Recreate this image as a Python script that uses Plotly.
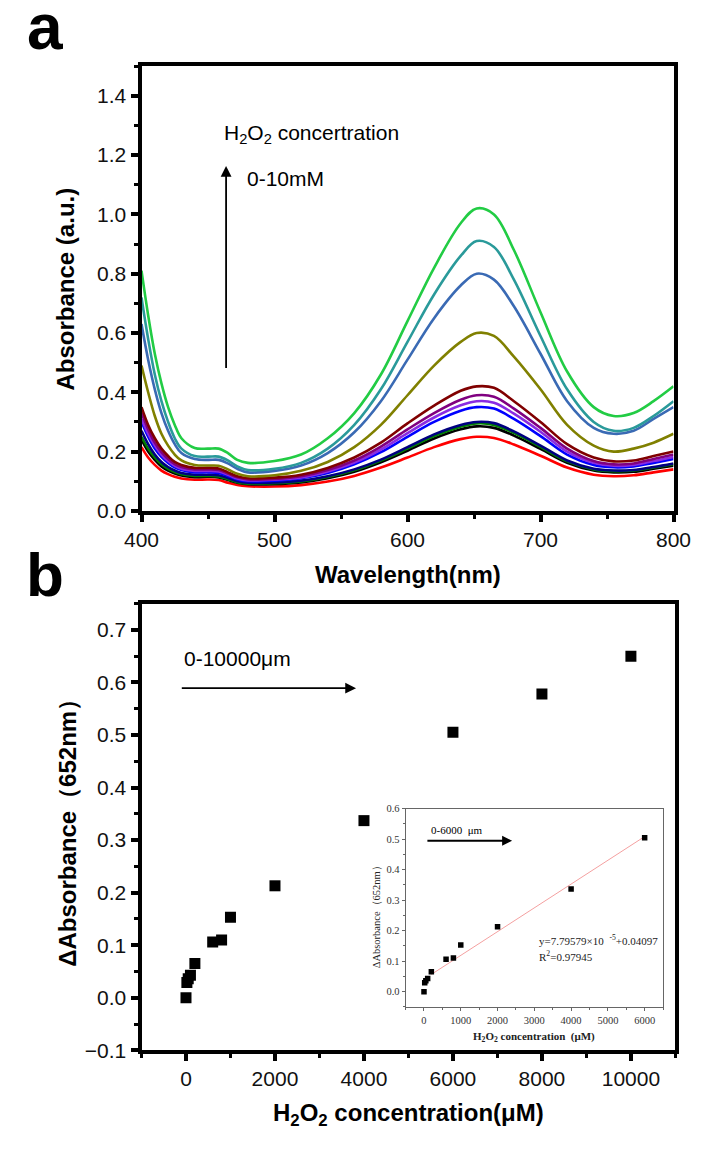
import plotly.graph_objects as go

# ---------------- Panel a data ----------------
wavelength = [400, 405, 410, 415, 420, 425, 430, 440, 450, 458, 465, 472, 480, 500, 520, 540,
              560, 580, 600, 620, 640, 652, 665, 680, 700, 720, 740, 755, 770, 785, 800]

abs_red = [.215, .18, .155, .136, .124, .115, .109, .105, .106, .104, .095, .087, .083, .082, .087, .099,
           .118, .146, .18, .215, .242, .25, .246, .224, .186, .146, .122, .117, .12, .13, .14]
abs_black = [.24, .2, .172, .15, .136, .126, .119, .114, .115, .113, .104, .095, .09, .09, .096, .11,
             .132, .164, .203, .244, .275, .285, .28, .254, .209, .162, .136, .13, .132, .142, .152]
abs_green = [.25, .21, .18, .157, .142, .131, .124, .118, .118, .116, .107, .097, .092, .093, .099, .114,
             .137, .17, .21, .252, .284, .295, .29, .263, .216, .167, .14, .134, .136, .146, .157]
abs_navy = [.27, .225, .19, .165, .148, .136, .128, .122, .122, .12, .111, .1, .095, .096, .102, .117,
            .14, .173, .215, .258, .29, .30, .296, .268, .22, .17, .142, .136, .138, .148, .16]
abs_blue = [.30, .25, .21, .182, .162, .147, .138, .13, .13, .128, .118, .106, .1, .102, .11, .128,
            .157, .198, .25, .3, .338, .35, .345, .31, .252, .19, .155, .147, .15, .162, .175]
abs_violet = [.31, .26, .22, .19, .168, .152, .142, .135, .135, .133, .122, .109, .103, .105, .113, .133,
              .163, .207, .262, .315, .356, .37, .365, .328, .267, .2, .162, .152, .155, .168, .182]
abs_purple = [.33, .275, .23, .198, .175, .158, .148, .14, .14, .138, .126, .113, .106, .108, .117, .138,
              .17, .217, .275, .33, .375, .39, .385, .345, .28, .21, .168, .157, .16, .175, .19]
abs_wine = [.35, .29, .245, .21, .185, .165, .155, .145, .145, .143, .13, .117, .11, .112, .122, .145,
            .18, .23, .295, .355, .405, .42, .415, .37, .30, .225, .18, .167, .17, .185, .20]
abs_olive = [.49, .40, .32, .26, .22, .19, .17, .155, .153, .152, .14, .125, .117, .12, .135, .165,
             .215, .29, .39, .49, .57, .60, .59, .52, .41, .29, .22, .20, .21, .23, .26]
abs_royal = [.63, .51, .41, .33, .27, .225, .195, .175, .172, .172, .16, .142, .13, .135, .153, .195,
             .265, .37, .51, .65, .76, .80, .78, .69, .53, .37, .28, .26, .27, .31, .35]
abs_cyan = [.72, .58, .46, .37, .30, .245, .21, .185, .183, .183, .17, .15, .138, .142, .162, .21,
            .29, .41, .57, .73, .86, .91, .89, .78, .59, .41, .30, .27, .28, .32, .37]
abs_lime = [.81, .66, .53, .43, .35, .29, .245, .212, .21, .21, .195, .172, .162, .168, .19, .245,
            .33, .46, .64, .82, .97, 1.02, 1.00, .88, .67, .47, .35, .32, .33, .37, .42]

curves = [abs_red, abs_black, abs_green, abs_navy, abs_blue, abs_violet, abs_purple,
          abs_wine, abs_olive, abs_royal, abs_cyan, abs_lime]
curve_colors = ["#FF0000", "#000000", "#008000", "#000080", "#0000FF", "#8A2BE2", "#800080",
                "#800000", "#808000", "#3A6AB4", "#2A9A9A", "#22CC44"]

# ---------------- Panel b data ----------------
conc = [0, 20, 50, 100, 200, 600, 800, 1000, 2000, 4000, 6000, 8000, 10000]
d_abs = [0.0, 0.029, 0.036, 0.043, 0.065, 0.106, 0.110, 0.153, 0.213, 0.337, 0.505, 0.578, 0.650]
d_err = [0.002, 0.004, 0.005, 0.005, 0.008, 0.004, 0.008, 0.006, 0.003, 0.003, 0.003, 0.004, 0.003]

inset_conc = [0, 20, 50, 100, 200, 600, 800, 1000, 2000, 4000, 6000]
inset_abs = [0.0, 0.029, 0.036, 0.043, 0.065, 0.106, 0.110, 0.153, 0.213, 0.337, 0.505]
fit_x = [200, 6000]
fit_slope = 7.79579e-5
fit_icpt = 0.04097
fit_y = [fit_slope * v + fit_icpt for v in fit_x]

W, H = 720, 1153
def px(x):
    return x / W
def py(y):
    return 1 - y / H

SANS = "Liberation Sans, Arial, sans-serif"
SERIF = "Liberation Serif, Times New Roman, serif"

fig = go.Figure()

for vals, col in zip(curves, curve_colors):
    fig.add_trace(go.Scatter(x=wavelength, y=vals, mode="lines", line=dict(color=col, width=2.6, shape="spline"),
                             xaxis="x", yaxis="y", showlegend=False))

fig.add_trace(go.Scatter(x=conc, y=d_abs, mode="markers",
                         marker=dict(symbol="square", size=11, color="black"),
                         error_y=dict(type="data", array=d_err, color="#888888", thickness=1.5, width=4),
                         xaxis="x2", yaxis="y2", showlegend=False))

fig.add_trace(go.Scatter(x=fit_x, y=fit_y, mode="lines", line=dict(color="#F4A0A0", width=1),
                         xaxis="x3", yaxis="y3", showlegend=False))
fig.add_trace(go.Scatter(x=inset_conc, y=inset_abs, mode="markers",
                         marker=dict(symbol="square", size=5.5, color="black"),
                         xaxis="x3", yaxis="y3", showlegend=False))

main_ax = dict(showline=True, linewidth=4, linecolor="black", mirror=True, ticks="outside",
               ticklen=7, tickwidth=3.5, tickcolor="black", showgrid=False, zeroline=False,
               tickfont=dict(family=SANS, size=21, color="#111"))

fig.update_layout(
    width=W, height=H, margin=dict(l=0, r=0, t=0, b=0),
    paper_bgcolor="white", plot_bgcolor="white",
    separators=".,",
    xaxis=dict(main_ax, domain=[px(130), px(690)], range=[400, 800], tick0=400, dtick=100,
               minor=dict(ticks="outside", ticklen=4, tickwidth=3, dtick=50, tickcolor="black"),
               anchor="y"),
    yaxis=dict(main_ax, domain=[py(513), py(62)], range=[0, 1.5], tick0=0, dtick=0.2, tickformat=".1f",
               minor=dict(ticks="outside", ticklen=4, tickwidth=3, dtick=0.1, tickcolor="black"),
               anchor="x"),
    xaxis2=dict(main_ax, domain=[px(130), px(692)], range=[-1000, 11000], tick0=0, dtick=2000,
                tickformat="d",
                minor=dict(ticks="outside", ticklen=4, tickwidth=3, dtick=1000, tickcolor="black"),
                anchor="y2"),
    yaxis2=dict(main_ax, domain=[py(1060), py(607)], range=[-0.1, 0.75], tick0=0, dtick=0.1, tickformat=".1f",
                minor=dict(ticks="outside", ticklen=4, tickwidth=3, dtick=0.05, tickcolor="black"),
                anchor="x2"),
    xaxis3=dict(domain=[px(408), px(679)], range=[-500, 6500], tick0=0, dtick=1000, tickformat="d",
                showline=True, linewidth=1, linecolor="#666", mirror=True, ticks="outside",
                ticklen=3, tickwidth=1, tickcolor="#666", showgrid=False, zeroline=False,
                minor=dict(ticks="outside", ticklen=2, tickwidth=1, dtick=500, tickcolor="#666"),
                tickfont=dict(family=SERIF, size=10.5, color="#333"), anchor="y3"),
    yaxis3=dict(domain=[py(1016), py(815)], range=[-0.05, 0.6], tick0=0, dtick=0.1, tickformat=".1f",
                showline=True, linewidth=1, linecolor="#666", mirror=True, ticks="outside",
                ticklen=3, tickwidth=1, tickcolor="#666", showgrid=False, zeroline=False,
                minor=dict(ticks="outside", ticklen=2, tickwidth=1, dtick=0.05, tickcolor="#666"),
                tickfont=dict(family=SERIF, size=10.5, color="#333"), anchor="x3"),
)

def pann(text, x, y, size, family=SANS, angle=0, color="black"):
    return dict(text=text, x=px(x), y=py(y), xref="paper", yref="paper", xanchor="center",
                yanchor="middle", textangle=angle, showarrow=False,
                font=dict(family=family, size=size, color=color))

ann = []
# panel letters
ann.append(pann("<b>a</b>", 28, 22, 64))
ann.append(pann("<b>b</b>", 28, 578, 62))
# axis titles
ann.append(pann("<b>Absorbance (a.u.)</b>", 50, 288, 24, angle=-90))
ann.append(pann("<b>Wavelength(nm)</b>", 410, 578, 24))
ann.append(pann("<b>ΔAbsorbance（652nm）</b>", 52, 833, 24, angle=-90))
ann.append(pann("<b>H<sub>2</sub>O<sub>2</sub> concentration(μM)</b>", 411, 1125, 24))
# panel a annotation
ann.append(dict(text="H<sub>2</sub>O<sub>2</sub> concertration", x=460.7, y=1.27, xref="x", yref="y",
                xanchor="left", yanchor="middle", showarrow=False, font=dict(family=SANS, size=21, color="black")))
ann.append(dict(text="0-10mM", x=478, y=1.12, xref="x", yref="y", xanchor="left", yanchor="middle",
                showarrow=False, font=dict(family=SANS, size=21, color="black")))
ann.append(dict(text="", x=463.6, y=1.163, ax=463.6, ay=0.477, xref="x", yref="y", axref="x", ayref="y",
                showarrow=True, arrowhead=2, arrowsize=1.2, arrowwidth=1.8, arrowcolor="black"))
# panel b annotation
ann.append(dict(text="0-10000μm", x=-100, y=0.645, xref="x2", yref="y2", xanchor="left", yanchor="middle",
                showarrow=False, font=dict(family=SANS, size=21, color="black")))
ann.append(dict(text="", x=3822, y=0.589, ax=-128, ay=0.589, xref="x2", yref="y2", axref="x2", ayref="y2",
                showarrow=True, arrowhead=2, arrowsize=1.2, arrowwidth=1.8, arrowcolor="black"))
# inset annotations
ann.append(dict(text="0-6000  μm", x=130, y=0.531, xref="x3", yref="y3", xanchor="left", yanchor="middle",
                showarrow=False, font=dict(family=SERIF, size=11, color="black")))
ann.append(dict(text="", x=2396, y=0.495, ax=52, ay=0.495, xref="x3", yref="y3", axref="x3", ayref="y3",
                showarrow=True, arrowhead=2, arrowsize=1, arrowwidth=2, arrowcolor="black"))
ann.append(dict(text="y=7.79579×10<sup>   -5</sup>+0.04097", x=3073, y=0.169, xref="x3", yref="y3",
                xanchor="left", yanchor="middle", showarrow=False, font=dict(family=SERIF, size=11, color="#222")))
ann.append(dict(text="R<sup>2</sup>=0.97945", x=3073, y=0.117, xref="x3", yref="y3",
                xanchor="left", yanchor="middle", showarrow=False, font=dict(family=SERIF, size=11, color="#222")))
ann.append(pann("ΔAbsorbance（652nm）", 377, 922, 10.5, family=SERIF, angle=-90, color="#222"))
ann.append(pann("<b>H<sub>2</sub>O<sub>2</sub> concentration  (μM)</b>", 543, 1047, 11, family=SERIF, color="#222"))

fig.update_layout(annotations=ann)
fig.write_html("out.html")
